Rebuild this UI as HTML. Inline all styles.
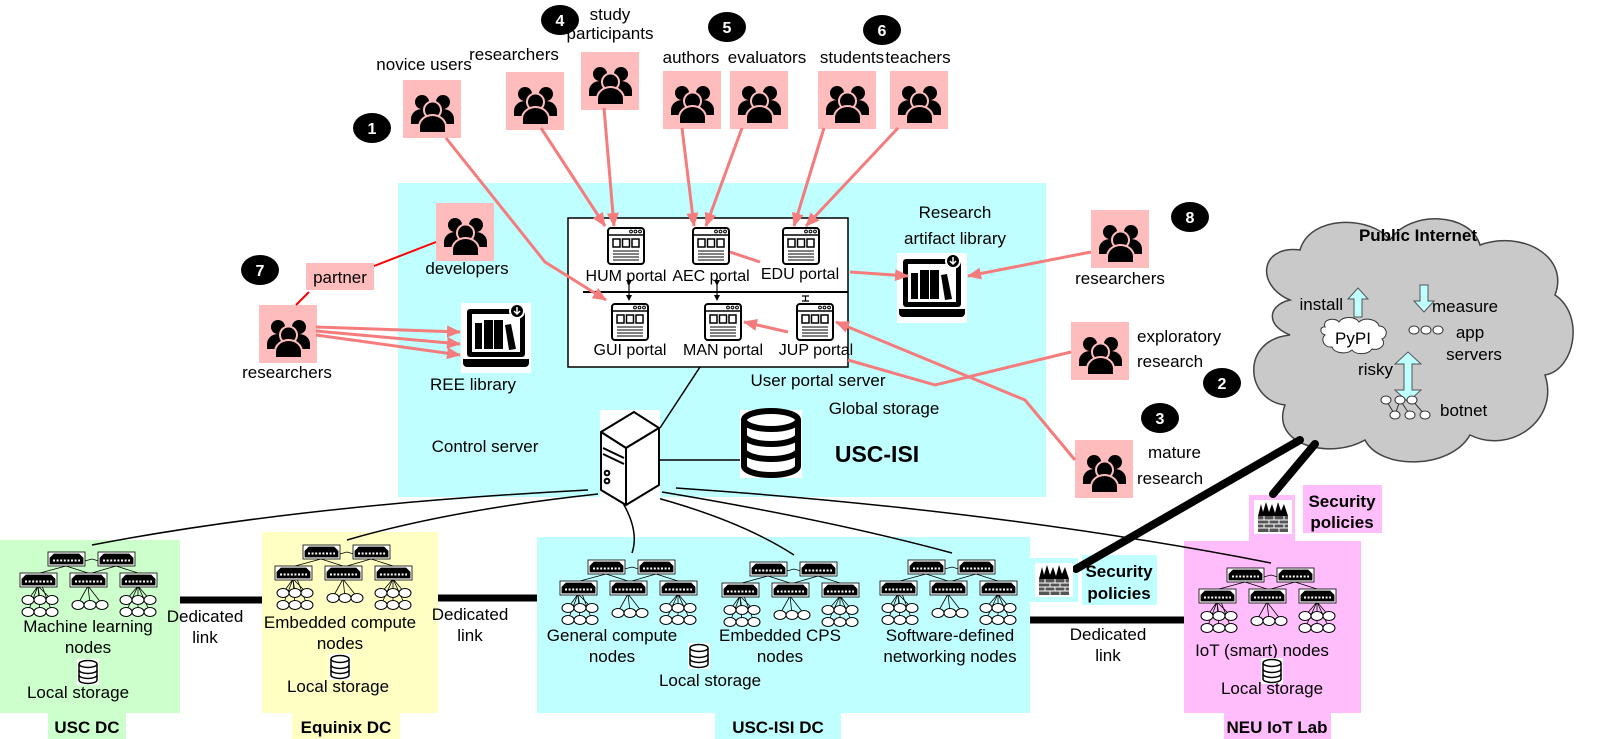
<!DOCTYPE html>
<html><head><meta charset="utf-8"><style>
html,body{margin:0;padding:0;background:#fff}
svg{display:block}
text{font-family:"Liberation Sans",Arial,sans-serif;font-size:17px;fill:#000}
.b{font-weight:bold}
.c{text-anchor:middle}
.e{text-anchor:end}
.pk{stroke:#f47c7c;stroke-width:3;fill:none}
</style></head><body>
<svg width="1600" height="739" viewBox="0 0 1600 739" xmlns="http://www.w3.org/2000/svg">
<defs>
<marker id="ar2" markerWidth="14" markerHeight="12" refX="13" refY="6" orient="auto" markerUnits="userSpaceOnUse"><path d="M0,0 L14,6 L0,12 z" fill="#f47c7c"/></marker>
<marker id="ak" markerWidth="6" markerHeight="6" refX="5" refY="3" orient="auto" markerUnits="userSpaceOnUse"><path d="M0,0 L6,3 L0,6 z" fill="#000"/></marker>
<g id="ppl">
<rect width="58" height="58" fill="#ffbcbc"/>
<circle cx="19" cy="22" r="7"/><circle cx="40" cy="22" r="7"/>
<path d="M8,44 v-5 a11,10 0 0 1 22,0 v5z"/><path d="M29,44 v-5 a11,10 0 0 1 22,0 v5z"/>
<circle cx="29.5" cy="30" r="8.5" stroke="#ffbcbc" stroke-width="2"/>
<path d="M16,53 v-6 a13.5,12 0 0 1 27,0 v6z" stroke="#ffbcbc" stroke-width="2"/>
</g>
<g id="portal">
<rect x="1" y="1" width="36" height="36" rx="3" fill="#fff" stroke="#000" stroke-width="2"/>
<line x1="1" y1="8" x2="37" y2="8" stroke="#000" stroke-width="1.5"/>
<circle cx="24" cy="4.5" r="1.4" fill="none" stroke="#000"/><circle cx="28.5" cy="4.5" r="1.4" fill="none" stroke="#000"/><circle cx="33" cy="4.5" r="1.4" fill="none" stroke="#000"/>
<rect x="6" y="12" width="7" height="8" fill="none" stroke="#000" stroke-width="1.5"/><rect x="15.5" y="12" width="7" height="8" fill="none" stroke="#000" stroke-width="1.5"/><rect x="25" y="12" width="7" height="8" fill="none" stroke="#000" stroke-width="1.5"/>
<path d="M6,24h26M6,27h26M6,30h26M6,33h26" stroke="#000" stroke-width="1"/>
</g>
<g id="sw">
<rect width="37" height="14" fill="#fff"/>
<path d="M6,2 h25 l4,4 v6 h-33 v-6z" fill="#000"/>
<path d="M5,8.5h27" stroke="#fff" stroke-width="2" stroke-dasharray="2,1.6"/>
</g>
<g id="cl" stroke="#000" stroke-width="0.8">
<path d="M46,14 L72,7 L96,14 M46,14 L20,21 M46,14 L68,21 M96,14 L118,21 M96,14 L72,21" fill="none"/>
<path d="M18,34 L8,48 M18,34 L20,48 M18,34 L32,48 M18,34 L8,60 M18,34 L20,60 M22,34 L32,60" fill="none"/>
<path d="M68,34 L58,52 M68,34 L70,52 M68,34 L82,52" fill="none"/>
<path d="M118,34 L106,48 M118,34 L118,48 M118,34 L130,48 M118,34 L106,60 M118,34 L118,60 M118,34 L130,60" fill="none"/>
<use href="#sw" x="28" y="0"/><use href="#sw" x="78" y="0"/>
<use href="#sw" x="0" y="21"/><use href="#sw" x="50" y="21"/><use href="#sw" x="100" y="21"/>
<g fill="#fff" stroke-width="1">
<ellipse cx="8" cy="48" rx="6" ry="4.5"/><ellipse cx="20" cy="48" rx="6" ry="4.5"/><ellipse cx="32" cy="48" rx="6" ry="4.5"/>
<ellipse cx="8" cy="60" rx="6" ry="4.5"/><ellipse cx="20" cy="60" rx="6" ry="4.5"/><ellipse cx="32" cy="60" rx="6" ry="4.5"/>
<ellipse cx="58" cy="53" rx="6" ry="4.5"/><ellipse cx="70" cy="53" rx="6" ry="4.5"/><ellipse cx="82" cy="53" rx="6" ry="4.5"/>
<ellipse cx="106" cy="48" rx="6" ry="4.5"/><ellipse cx="118" cy="48" rx="6" ry="4.5"/><ellipse cx="130" cy="48" rx="6" ry="4.5"/>
<ellipse cx="106" cy="60" rx="6" ry="4.5"/><ellipse cx="118" cy="60" rx="6" ry="4.5"/><ellipse cx="130" cy="60" rx="6" ry="4.5"/>
</g>
</g>
<g id="db">
<rect x="-2" y="-2" width="22" height="26" fill="#fff"/>
<path d="M0,3 v16 a9,3.5 0 0 0 18,0 v-16" fill="#fff" stroke="#000" stroke-width="1.5"/>
<ellipse cx="9" cy="3" rx="9" ry="3.5" fill="#fff" stroke="#000" stroke-width="1.5"/>
<path d="M0,9 a9,3.5 0 0 0 18,0 M0,14 a9,3.5 0 0 0 18,0" fill="none" stroke="#000" stroke-width="1.5"/>
</g>
<g id="lap">
<rect width="70" height="70" fill="#fff"/>
<rect x="6" y="6" width="58" height="48" rx="3" fill="#000"/>
<rect x="11" y="11" width="48" height="38" fill="#fff"/>
<rect x="14" y="20" width="7" height="26" fill="#000"/><rect x="23" y="17" width="9" height="29" fill="#000"/><rect x="33" y="17" width="9" height="29" fill="#000"/><path d="M44,22 l6,-1 l5,25 l-7,1z" fill="#000"/>
<path d="M2,56 h66 v4 a4,4 0 0 1 -4,4 h-58 a4,4 0 0 1 -4,-4z" fill="#000"/>
<circle cx="56" cy="8" r="7" fill="#000" stroke="#fff" stroke-width="2"/><path d="M56,4 v6 M53,8 l3,3 l3,-3" stroke="#fff" stroke-width="1.5" fill="none"/>
</g>
<g id="fw">
<rect width="38" height="34" fill="#fff"/>
<path d="M4,16 l3,-12 l2,8 l3,-10 l3,10 l3,-8 l3,9 l3,-11 l3,9 l3,-7 l4,12 z" fill="#000"/>
<rect x="4" y="16" width="30" height="16" fill="#555"/>
<path d="M4,20h30M4,24h30M4,28h30" stroke="#fff" stroke-width="1"/>
<path d="M10,16v4M20,16v4M30,16v4M15,20v4M25,20v4M10,24v4M20,24v4M30,24v4M15,28v4M25,28v4" stroke="#fff" stroke-width="1"/>
</g>
</defs>

<rect x="398" y="183" width="648" height="314" fill="#bfffff"/>
<rect x="0" y="540" width="180" height="173" fill="#ccffcc"/><rect x="48" y="713" width="78" height="26" fill="#ccffcc"/>
<rect x="262" y="532" width="176" height="181" fill="#ffffc4"/><rect x="292" y="713" width="108" height="26" fill="#ffffc4"/>
<rect x="537" y="537" width="493" height="176" fill="#bfffff"/><rect x="715" y="713" width="126" height="26" fill="#bfffff"/>
<rect x="1184" y="541" width="177" height="172" fill="#ffbdfb"/><rect x="1224" y="713" width="107" height="26" fill="#ffbdfb"/>
<rect x="1249" y="495" width="46" height="46" fill="#ffbdfb"/>
<rect x="1303" y="485" width="79" height="48" fill="#ffbdfb"/>
<rect x="1082" y="555" width="75" height="50" fill="#bfffff"/>
<rect x="1030" y="558" width="48" height="44" fill="#bfffff"/>

<path d="M1290,300 C1255,285 1260,245 1300,250 C1310,215 1370,215 1390,240 C1410,210 1470,212 1480,245 C1520,230 1570,255 1555,295 C1585,315 1575,370 1545,375 C1560,420 1510,455 1470,435 C1450,470 1380,470 1365,440 C1330,460 1270,445 1285,405 C1245,400 1240,340 1290,335 C1265,325 1268,305 1290,300 Z" fill="#c9c9c9" stroke="#444" stroke-width="1.5"/>
<text x="1418" y="241" class="b c">Public Internet</text>
<path d="M1325,327 c-3,-8 10,-10 14,-5 c4,-6 16,-6 20,0 c6,-5 18,-3 20,4 c8,0 10,10 3,13 c5,6 -3,12 -10,10 c-4,6 -16,6 -20,1 c-6,5 -18,3 -20,-3 c-8,1 -12,-8 -7,-12 c-6,-2 -5,-9 0,-8z" fill="#fff" stroke="#333"/>
<text x="1353" y="344" class="c">PyPI</text>
<path d="M1354,317 v-18 h-6 l10,-11 l10,11 h-6 v18z" fill="#bfffff" stroke="#555"/>
<text x="1343" y="310" class="e">install</text>
<path d="M1420,285 v16 h-6 l10,11 l10,-11 h-6 v-16z" fill="#bfffff" stroke="#555"/>
<text x="1432" y="312">measure</text>
<g fill="#fff" stroke="#333"><ellipse cx="1414" cy="330" rx="5" ry="4"/><ellipse cx="1426" cy="330" rx="5" ry="4"/><ellipse cx="1438" cy="330" rx="5" ry="4"/></g>
<text x="1470" y="338" class="c">app</text><text x="1474" y="360" class="c">servers</text>
<path d="M1404,390 v-26 h-9 l13,-12 l13,12 h-9 v26 h9 l-13,12 l-13,-12z" fill="#bfffff" stroke="#555"/>
<text x="1393" y="375" class="e">risky</text>
<g stroke="#333" fill="#fff"><path d="M1386,400 L1395,415 M1400,400 L1395,415 M1400,400 L1410,415 M1412,400 L1425,415" fill="none"/>
<ellipse cx="1386" cy="400" rx="5" ry="4"/><ellipse cx="1400" cy="400" rx="5" ry="4"/><ellipse cx="1412" cy="400" rx="5" ry="4"/>
<ellipse cx="1395" cy="415" rx="5" ry="4"/><ellipse cx="1410" cy="415" rx="5" ry="4"/><ellipse cx="1425" cy="415" rx="5" ry="4"/></g>
<text x="1440" y="416">botnet</text>

<line x1="1300" y1="440" x2="1076" y2="569" stroke="#000" stroke-width="8" stroke-linecap="round"/>
<line x1="1315" y1="444" x2="1273" y2="494" stroke="#000" stroke-width="8" stroke-linecap="round"/>
<line x1="180" y1="600" x2="262" y2="600" stroke="#000" stroke-width="7"/>
<line x1="438" y1="598" x2="537" y2="598" stroke="#000" stroke-width="7"/>
<line x1="1030" y1="620" x2="1184" y2="620" stroke="#000" stroke-width="7"/>
<text x="205" y="622" class="c">Dedicated</text><text x="205" y="643" class="c">link</text>
<text x="470" y="620" class="c">Dedicated</text><text x="470" y="641" class="c">link</text>
<text x="1108" y="640" class="c">Dedicated</text><text x="1108" y="661" class="c">link</text>

<g stroke="#000" stroke-width="1.5" fill="none">
<path d="M588,490 Q300,505 92,545"/>
<path d="M598,494 Q450,510 347,540"/>
<path d="M620,498 Q640,530 632,553"/>
<path d="M650,496 Q740,520 794,555"/>
<path d="M662,492 Q830,520 952,553"/>
<path d="M676,488 Q1000,510 1271,563"/>
<line x1="660" y1="428" x2="700" y2="367"/>
<line x1="660" y1="460" x2="742" y2="460"/>
</g>

<use href="#cl" x="20" y="552"/>
<use href="#cl" x="275" y="545"/>
<use href="#cl" x="560" y="560"/>
<use href="#cl" x="722" y="562"/>
<use href="#cl" x="880" y="560"/>
<use href="#cl" x="1199" y="568"/>

<text x="88" y="632" class="c">Machine learning</text><text x="88" y="653" class="c">nodes</text>
<use href="#db" x="79" y="661"/><text x="78" y="698" class="c">Local storage</text>
<text x="340" y="628" class="c">Embedded compute</text><text x="340" y="649" class="c">nodes</text>
<use href="#db" x="331" y="656"/><text x="338" y="692" class="c">Local storage</text>
<text x="612" y="641" class="c">General compute</text><text x="612" y="662" class="c">nodes</text>
<use href="#db" x="690" y="645"/><text x="710" y="686" class="c">Local storage</text>
<text x="780" y="641" class="c">Embedded CPS</text><text x="780" y="662" class="c">nodes</text>
<text x="950" y="641" class="c">Software-defined</text><text x="950" y="662" class="c">networking nodes</text>
<text x="1262" y="656" class="c">IoT (smart) nodes</text>
<use href="#db" x="1263" y="660"/><text x="1272" y="694" class="c">Local storage</text>
<text x="87" y="733" class="b c">USC DC</text>
<text x="346" y="733" class="b c">Equinix DC</text>
<text x="778" y="733" class="b c">USC-ISI DC</text>
<text x="1277" y="733" class="b c">NEU IoT Lab</text>

<use href="#fw" x="1035" y="563"/>
<text x="1119" y="577" class="b c">Security</text><text x="1119" y="599" class="b c">policies</text>
<use href="#fw" x="1254" y="500"/>
<text x="1342" y="507" class="b c">Security</text><text x="1342" y="528" class="b c">policies</text>

<rect x="600" y="410" width="60" height="90" fill="#fff"/>
<g fill="#fff" stroke="#000" stroke-width="2" stroke-linejoin="round">
<path d="M601,432 L634,412 L659,428 L626,448 Z"/>
<path d="M626,448 L659,428 L659,485 L626,505 Z"/>
<path d="M601,432 L626,448 L626,505 L601,490 Z"/>
<path d="M603,448 L624,458 M603,454 L624,464" fill="none"/>
<circle cx="607" cy="473" r="2.3"/><circle cx="607" cy="481" r="2.3"/>
</g>
<rect x="740" y="410" width="62" height="68" fill="#fff"/>
<g fill="#fff" stroke="#000" stroke-width="6">
<path d="M744,420 v46 a27,9 0 0 0 54,0 v-46"/>
<ellipse cx="771" cy="420" rx="27" ry="9"/>
<path d="M744,435 a27,9 0 0 0 54,0 M744,450 a27,9 0 0 0 54,0" fill="none"/>
</g>
<text x="485" y="452" class="c">Control server</text>
<text x="884" y="414" class="c">Global storage</text>
<text x="877" y="462" class="b c" style="font-size:23px">USC-ISI</text>
<text x="818" y="386" class="c">User portal server</text>

<rect x="568" y="218" width="280" height="149" fill="#fff" stroke="#000" stroke-width="1.5"/>
<line x1="583" y1="292" x2="848" y2="292" stroke="#000" stroke-width="2"/>
<use href="#portal" x="607" y="227"/><use href="#portal" x="692" y="227"/><use href="#portal" x="782" y="227"/>
<use href="#portal" x="611" y="303"/><use href="#portal" x="704" y="303"/><use href="#portal" x="796" y="303"/>
<g style="font-size:16px">
<text x="626" y="281" class="c" style="font-size:16px">HUM portal</text><text x="711" y="281" class="c" style="font-size:16px">AEC portal</text><text x="800" y="279" class="c" style="font-size:16px">EDU portal</text>
<text x="630" y="355" class="c" style="font-size:16px">GUI portal</text><text x="723" y="355" class="c" style="font-size:16px">MAN portal</text><text x="816" y="355" class="c" style="font-size:16px">JUP portal</text>
</g>
<g stroke="#000" stroke-width="1.2"><line x1="629" y1="285" x2="629" y2="300" marker-end="url(#ak)" marker-start="url(#ak)"/>
<line x1="717" y1="285" x2="717" y2="300" marker-end="url(#ak)" marker-start="url(#ak)"/>
<path d="M802,296 h7 M805.5,296 v5 M802,301 h7"/></g>

<use href="#lap" x="461" y="303"/><text x="473" y="390" class="c">REE library</text>
<use href="#lap" x="897" y="253"/><text x="955" y="218" class="c">Research</text><text x="955" y="244" class="c">artifact library</text>

<use href="#ppl" x="403" y="80"/><text x="424" y="70" class="c">novice users</text>
<use href="#ppl" x="506" y="72"/><text x="514" y="60" class="c">researchers</text>
<use href="#ppl" x="581" y="52"/><text x="610" y="20" class="c">study</text><text x="610" y="39" class="c">participants</text>
<use href="#ppl" x="663" y="71"/><text x="691" y="63" class="c">authors</text>
<use href="#ppl" x="730" y="71"/><text x="767" y="63" class="c">evaluators</text>
<use href="#ppl" x="818" y="71"/><text x="852" y="63" class="c">students</text>
<use href="#ppl" x="890" y="71"/><text x="918" y="63" class="c">teachers</text>
<use href="#ppl" x="436" y="203"/><text x="467" y="274" class="c">developers</text>
<use href="#ppl" x="259" y="305"/><text x="287" y="378" class="c">researchers</text>
<use href="#ppl" x="1091" y="210"/><text x="1120" y="284" class="c">researchers</text>
<use href="#ppl" x="1071" y="322"/><text x="1137" y="342">exploratory</text><text x="1137" y="367">research</text>
<use href="#ppl" x="1075" y="440"/><text x="1148" y="458">mature</text><text x="1137" y="484">research</text>

<path class="pk" d="M446,138 L545,262 L606,300" marker-end="url(#ar2)"/>
<path class="pk" d="M541,128 L605,226" marker-end="url(#ar2)"/>
<path class="pk" d="M604,108 L614,226" marker-end="url(#ar2)"/>
<path class="pk" d="M682,128 L694,226" marker-end="url(#ar2)"/>
<path class="pk" d="M742,128 L706,226" marker-end="url(#ar2)"/>
<path class="pk" d="M824,128 L794,226" marker-end="url(#ar2)"/>
<path class="pk" d="M898,128 L806,226" marker-end="url(#ar2)"/>
<path class="pk" d="M730,252 L760,262"/>
<path class="pk" d="M850,272 L908,276" marker-end="url(#ar2)"/>
<path class="pk" d="M1091,252 L968,276" marker-end="url(#ar2)"/>
<path class="pk" d="M1071,352 L935,385 L848,360"/>
<path class="pk" d="M788,332 L744,322" marker-end="url(#ar2)"/>
<path class="pk" d="M1075,460 L1025,400 L836,322" marker-end="url(#ar2)"/>
<path class="pk" d="M316,327 L460,332" marker-end="url(#ar2)"/>
<path class="pk" d="M316,331 L460,344" marker-end="url(#ar2)"/>
<path class="pk" d="M316,335 L460,355" marker-end="url(#ar2)"/>
<path d="M296,305 L309,292 M374,266 L436,242" stroke="#f00" stroke-width="2" fill="none"/>
<rect x="306" y="263" width="68" height="27" fill="#ffbcbc"/><text x="340" y="283" class="c">partner</text>

<g>
<ellipse cx="372" cy="128" rx="19" ry="15"/><text x="372" y="134" class="b c" style="fill:#fff;font-size:16px">1</text>
<ellipse cx="1222" cy="383" rx="19" ry="15"/><text x="1222" y="389" class="b c" style="fill:#fff;font-size:16px">2</text>
<ellipse cx="1160" cy="418" rx="19" ry="15"/><text x="1160" y="424" class="b c" style="fill:#fff;font-size:16px">3</text>
<ellipse cx="560" cy="20" rx="19" ry="15"/><text x="560" y="26" class="b c" style="fill:#fff;font-size:16px">4</text>
<ellipse cx="727" cy="27" rx="19" ry="15"/><text x="727" y="33" class="b c" style="fill:#fff;font-size:16px">5</text>
<ellipse cx="882" cy="30" rx="19" ry="15"/><text x="882" y="36" class="b c" style="fill:#fff;font-size:16px">6</text>
<ellipse cx="260" cy="270" rx="19" ry="15"/><text x="260" y="276" class="b c" style="fill:#fff;font-size:16px">7</text>
<ellipse cx="1190" cy="217" rx="19" ry="15"/><text x="1190" y="223" class="b c" style="fill:#fff;font-size:16px">8</text>
</g>
</svg>
</body></html>
